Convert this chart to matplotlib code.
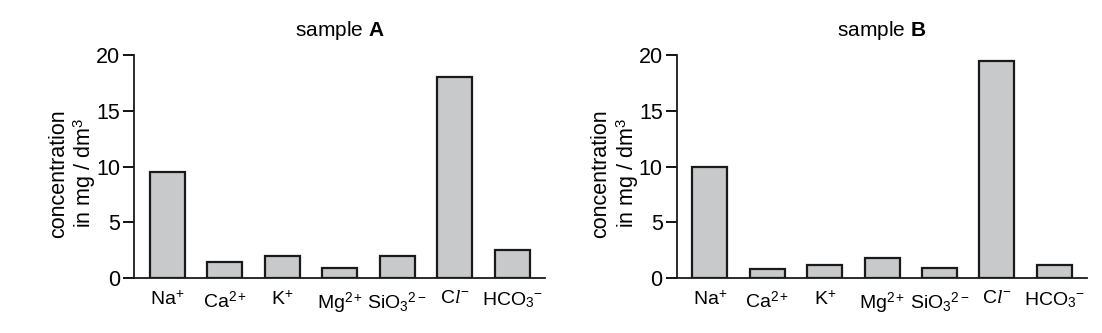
import matplotlib
matplotlib.use("Agg")
import matplotlib.pyplot as plt

plt.rcParams['font.family'] = ['Liberation Sans', 'DejaVu Sans']
plt.rcParams['mathtext.fontset'] = 'custom'
plt.rcParams['mathtext.rm'] = 'Liberation Sans'
plt.rcParams['mathtext.it'] = 'Liberation Serif:italic'
plt.rcParams['mathtext.bf'] = 'Liberation Sans:bold'

# ions and concentrations (mg/dm3)
ions = [r'Na$^{+}$', r'Ca$^{2+}$', r'K$^{+}$', r'Mg$^{2+}$',
        r'SiO$_3{}^{2-}$', r'C$\mathit{l}^{-}$', r'HCO$_3{}^{-}$']
sample_a = [9.5, 1.4, 2.0, 0.9, 2.0, 18.0, 2.5]
sample_b = [10.0, 0.8, 1.2, 1.8, 0.9, 19.5, 1.2]
yticks = [0, 5, 10, 15, 20]

fig = plt.figure(figsize=(11.02, 3.33), dpi=100)
ax_a = fig.add_axes([0.1216, 0.1652, 0.373, 0.669])
ax_b = fig.add_axes([0.614, 0.1652, 0.3725, 0.669])

for ax, vals, name, lx in [(ax_a, sample_a, 'A', -0.087), (ax_b, sample_b, 'B', -0.088)]:
    x = range(len(ions))
    ax.bar(x, vals, width=0.61, color='#c8c9cb', edgecolor='#1a1a1a', linewidth=1.6, zorder=3)
    ax.set_xlim(-0.58, 6.57)
    ax.set_ylim(0, 20)
    ax.set_yticks(yticks)
    ax.set_xticks(list(x))
    ax.set_xticklabels(ions, fontsize=14)
    ax.tick_params(axis='x', length=0, pad=9)
    ax.tick_params(axis='y', length=8, width=1.3, labelsize=15.5, pad=2, direction='out')
    for s in ['top', 'right']:
        ax.spines[s].set_visible(False)
    for s in ['left', 'bottom']:
        ax.spines[s].set_linewidth(1.3)
        ax.spines[s].set_color('#1a1a1a')
    ax.set_ylabel('concentration\nin mg / dm$^3$', fontsize=15.5, linespacing=1.15)
    ax.yaxis.set_label_coords(lx, 0.47)
    ax.set_title('sample $\\mathbf{' + name + '}$', fontsize=15, pad=14)

fig.savefig('out.png', dpi=100)
